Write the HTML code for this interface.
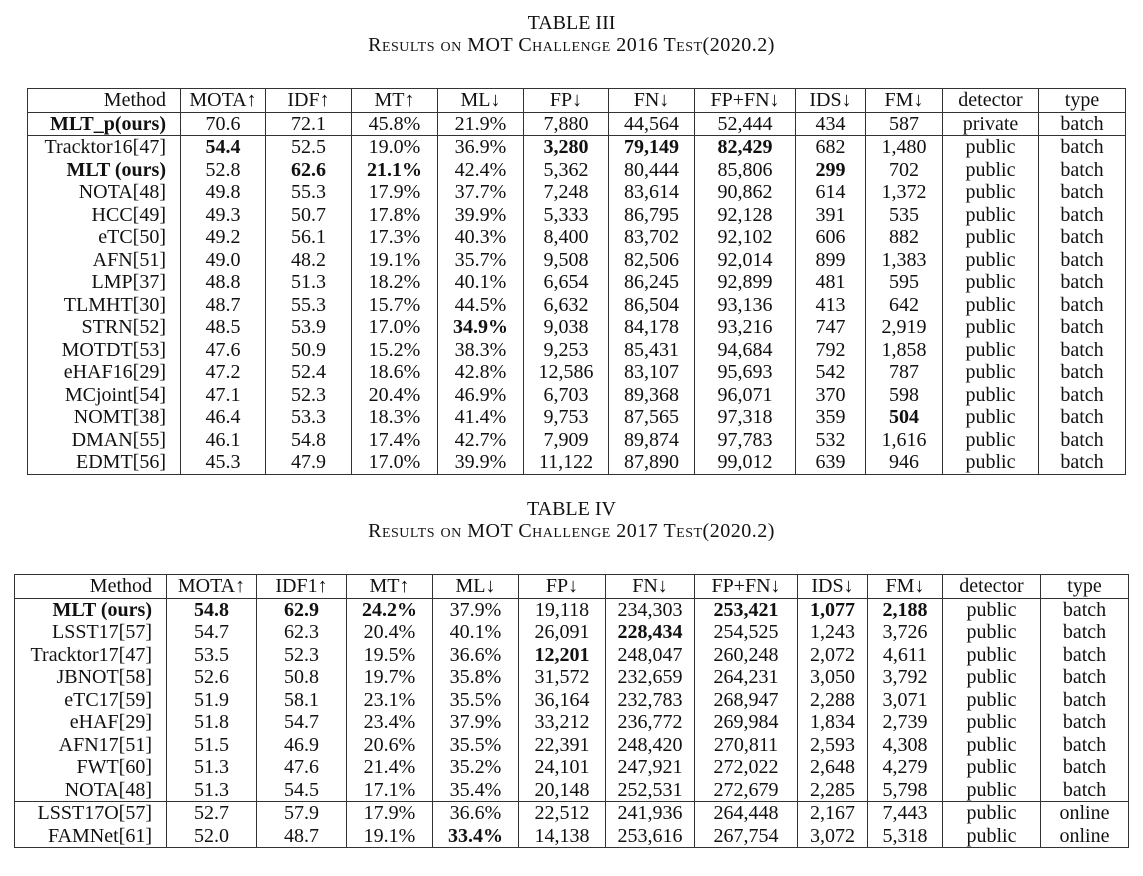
<!DOCTYPE html>
<html><head><meta charset="utf-8"><style>
body{margin:0;background:#fff;width:1143px;height:876px;position:relative;overflow:hidden;font-family:"Liberation Serif",serif;color:#111}
.t{position:absolute;left:0;width:1143px;text-align:center;font-size:20px;line-height:22px}
.sc{font-variant:small-caps;letter-spacing:0.5px;font-size:20px}
table{position:absolute;border-collapse:collapse;font-size:20px;table-layout:fixed}
td{border-left:1px solid #333;border-right:1px solid #333;text-align:center;padding:0;height:22.5px;line-height:22px;white-space:nowrap;overflow:hidden}
td:first-child{text-align:right;padding-right:14px}
tr.h td{border-bottom:1px solid #333}
table{border:1.5px solid #333}
b{font-weight:bold}
</style></head><body>
<div class="t" style="top:12px">TABLE III</div>
<div class="t sc" style="top:34px">Results on MOT Challenge 2016 Test(2020.2)</div>
<table style="left:27px;top:88px;width:1098px">
<colgroup><col style="width:153px"><col style="width:85px"><col style="width:86px"><col style="width:86px"><col style="width:86px"><col style="width:85px"><col style="width:86px"><col style="width:101px"><col style="width:70px"><col style="width:77px"><col style="width:96px"><col style="width:87px"></colgroup>
<tr class="h"><td>Method</td><td>MOTA↑</td><td>IDF↑</td><td>MT↑</td><td>ML↓</td><td>FP↓</td><td>FN↓</td><td>FP+FN↓</td><td>IDS↓</td><td>FM↓</td><td>detector</td><td>type</td></tr>
<tr class="h"><td><b>MLT_p(ours)</b></td><td>70.6</td><td>72.1</td><td>45.8%</td><td>21.9%</td><td>7,880</td><td>44,564</td><td>52,444</td><td>434</td><td>587</td><td>private</td><td>batch</td></tr>
<tr><td>Tracktor16[47]</td><td><b>54.4</b></td><td>52.5</td><td>19.0%</td><td>36.9%</td><td><b>3,280</b></td><td><b>79,149</b></td><td><b>82,429</b></td><td>682</td><td>1,480</td><td>public</td><td>batch</td></tr>
<tr><td><b>MLT (ours)</b></td><td>52.8</td><td><b>62.6</b></td><td><b>21.1%</b></td><td>42.4%</td><td>5,362</td><td>80,444</td><td>85,806</td><td><b>299</b></td><td>702</td><td>public</td><td>batch</td></tr>
<tr><td>NOTA[48]</td><td>49.8</td><td>55.3</td><td>17.9%</td><td>37.7%</td><td>7,248</td><td>83,614</td><td>90,862</td><td>614</td><td>1,372</td><td>public</td><td>batch</td></tr>
<tr><td>HCC[49]</td><td>49.3</td><td>50.7</td><td>17.8%</td><td>39.9%</td><td>5,333</td><td>86,795</td><td>92,128</td><td>391</td><td>535</td><td>public</td><td>batch</td></tr>
<tr><td>eTC[50]</td><td>49.2</td><td>56.1</td><td>17.3%</td><td>40.3%</td><td>8,400</td><td>83,702</td><td>92,102</td><td>606</td><td>882</td><td>public</td><td>batch</td></tr>
<tr><td>AFN[51]</td><td>49.0</td><td>48.2</td><td>19.1%</td><td>35.7%</td><td>9,508</td><td>82,506</td><td>92,014</td><td>899</td><td>1,383</td><td>public</td><td>batch</td></tr>
<tr><td>LMP[37]</td><td>48.8</td><td>51.3</td><td>18.2%</td><td>40.1%</td><td>6,654</td><td>86,245</td><td>92,899</td><td>481</td><td>595</td><td>public</td><td>batch</td></tr>
<tr><td>TLMHT[30]</td><td>48.7</td><td>55.3</td><td>15.7%</td><td>44.5%</td><td>6,632</td><td>86,504</td><td>93,136</td><td>413</td><td>642</td><td>public</td><td>batch</td></tr>
<tr><td>STRN[52]</td><td>48.5</td><td>53.9</td><td>17.0%</td><td><b>34.9%</b></td><td>9,038</td><td>84,178</td><td>93,216</td><td>747</td><td>2,919</td><td>public</td><td>batch</td></tr>
<tr><td>MOTDT[53]</td><td>47.6</td><td>50.9</td><td>15.2%</td><td>38.3%</td><td>9,253</td><td>85,431</td><td>94,684</td><td>792</td><td>1,858</td><td>public</td><td>batch</td></tr>
<tr><td>eHAF16[29]</td><td>47.2</td><td>52.4</td><td>18.6%</td><td>42.8%</td><td>12,586</td><td>83,107</td><td>95,693</td><td>542</td><td>787</td><td>public</td><td>batch</td></tr>
<tr><td>MCjoint[54]</td><td>47.1</td><td>52.3</td><td>20.4%</td><td>46.9%</td><td>6,703</td><td>89,368</td><td>96,071</td><td>370</td><td>598</td><td>public</td><td>batch</td></tr>
<tr><td>NOMT[38]</td><td>46.4</td><td>53.3</td><td>18.3%</td><td>41.4%</td><td>9,753</td><td>87,565</td><td>97,318</td><td>359</td><td><b>504</b></td><td>public</td><td>batch</td></tr>
<tr><td>DMAN[55]</td><td>46.1</td><td>54.8</td><td>17.4%</td><td>42.7%</td><td>7,909</td><td>89,874</td><td>97,783</td><td>532</td><td>1,616</td><td>public</td><td>batch</td></tr>
<tr><td>EDMT[56]</td><td>45.3</td><td>47.9</td><td>17.0%</td><td>39.9%</td><td>11,122</td><td>87,890</td><td>99,012</td><td>639</td><td>946</td><td>public</td><td>batch</td></tr>
</table>
<div class="t" style="top:498px">TABLE IV</div>
<div class="t sc" style="top:520px">Results on MOT Challenge 2017 Test(2020.2)</div>
<table style="left:14px;top:574px;width:1114px">
<colgroup><col style="width:152px"><col style="width:90px"><col style="width:90px"><col style="width:86px"><col style="width:86px"><col style="width:87px"><col style="width:89px"><col style="width:103px"><col style="width:70px"><col style="width:75px"><col style="width:98px"><col style="width:88px"></colgroup>
<tr class="h"><td>Method</td><td>MOTA↑</td><td>IDF1↑</td><td>MT↑</td><td>ML↓</td><td>FP↓</td><td>FN↓</td><td>FP+FN↓</td><td>IDS↓</td><td>FM↓</td><td>detector</td><td>type</td></tr>
<tr><td><b>MLT (ours)</b></td><td><b>54.8</b></td><td><b>62.9</b></td><td><b>24.2%</b></td><td>37.9%</td><td>19,118</td><td>234,303</td><td><b>253,421</b></td><td><b>1,077</b></td><td><b>2,188</b></td><td>public</td><td>batch</td></tr>
<tr><td>LSST17[57]</td><td>54.7</td><td>62.3</td><td>20.4%</td><td>40.1%</td><td>26,091</td><td><b>228,434</b></td><td>254,525</td><td>1,243</td><td>3,726</td><td>public</td><td>batch</td></tr>
<tr><td>Tracktor17[47]</td><td>53.5</td><td>52.3</td><td>19.5%</td><td>36.6%</td><td><b>12,201</b></td><td>248,047</td><td>260,248</td><td>2,072</td><td>4,611</td><td>public</td><td>batch</td></tr>
<tr><td>JBNOT[58]</td><td>52.6</td><td>50.8</td><td>19.7%</td><td>35.8%</td><td>31,572</td><td>232,659</td><td>264,231</td><td>3,050</td><td>3,792</td><td>public</td><td>batch</td></tr>
<tr><td>eTC17[59]</td><td>51.9</td><td>58.1</td><td>23.1%</td><td>35.5%</td><td>36,164</td><td>232,783</td><td>268,947</td><td>2,288</td><td>3,071</td><td>public</td><td>batch</td></tr>
<tr><td>eHAF[29]</td><td>51.8</td><td>54.7</td><td>23.4%</td><td>37.9%</td><td>33,212</td><td>236,772</td><td>269,984</td><td>1,834</td><td>2,739</td><td>public</td><td>batch</td></tr>
<tr><td>AFN17[51]</td><td>51.5</td><td>46.9</td><td>20.6%</td><td>35.5%</td><td>22,391</td><td>248,420</td><td>270,811</td><td>2,593</td><td>4,308</td><td>public</td><td>batch</td></tr>
<tr><td>FWT[60]</td><td>51.3</td><td>47.6</td><td>21.4%</td><td>35.2%</td><td>24,101</td><td>247,921</td><td>272,022</td><td>2,648</td><td>4,279</td><td>public</td><td>batch</td></tr>
<tr class="h"><td>NOTA[48]</td><td>51.3</td><td>54.5</td><td>17.1%</td><td>35.4%</td><td>20,148</td><td>252,531</td><td>272,679</td><td>2,285</td><td>5,798</td><td>public</td><td>batch</td></tr>
<tr><td>LSST17O[57]</td><td>52.7</td><td>57.9</td><td>17.9%</td><td>36.6%</td><td>22,512</td><td>241,936</td><td>264,448</td><td>2,167</td><td>7,443</td><td>public</td><td>online</td></tr>
<tr><td>FAMNet[61]</td><td>52.0</td><td>48.7</td><td>19.1%</td><td><b>33.4%</b></td><td>14,138</td><td>253,616</td><td>267,754</td><td>3,072</td><td>5,318</td><td>public</td><td>online</td></tr>
</table>
</body></html>
